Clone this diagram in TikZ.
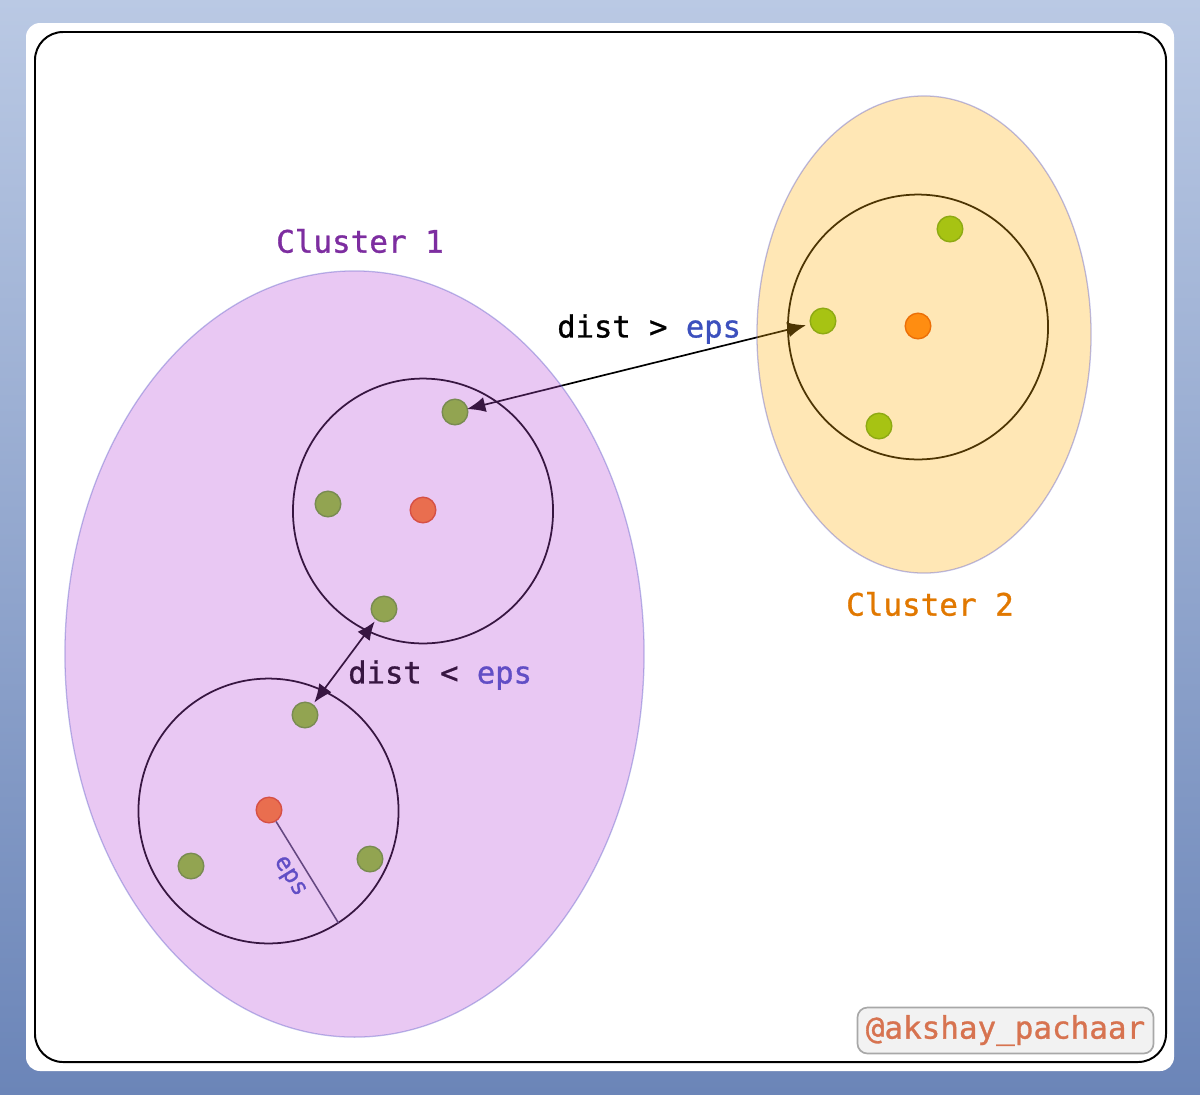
\documentclass[tikz,border=0pt]{standalone}
\usepackage{fontspec}
\setmonofont[FakeBold=1]{DejaVu Sans Mono}
\usetikzlibrary{arrows.meta,shapes.geometric}
\definecolor{bgtop}{RGB}{186,201,228}
\definecolor{bgbot}{RGB}{107,133,184}
\definecolor{pinkc}{RGB}{184,74,216}
\definecolor{yellowc}{RGB}{255,176,12}
\definecolor{edgec}{RGB}{90,90,200}
\definecolor{greenc}{RGB}{130,204,23}
\definecolor{greend}{RGB}{94,168,23}
\definecolor{redc}{RGB}{255,127,20}
\definecolor{redd}{RGB}{228,84,6}
\definecolor{epsc}{RGB}{60,80,190}
\definecolor{radc}{RGB}{64,70,91}
\definecolor{cl1}{RGB}{125,45,160}
\definecolor{cl2}{RGB}{225,120,0}
\definecolor{tagc}{RGB}{215,115,80}
\definecolor{tagbg}{RGB}{242,242,242}
\definecolor{tagd}{RGB}{168,168,168}
\begin{document}
\begin{tikzpicture}[x=0.025cm,y=-0.025cm,font=\ttfamily\fontsize{22}{24}\selectfont,>={Latex[length=0.46cm,width=0.38cm]},
	ring/.style={ellipse,draw=black,line width=1.25pt,inner sep=0pt,minimum width=6.5cm,minimum height=6.62cm},
	pt/.style={circle,draw=greend,fill=greenc,line width=1pt,inner sep=0pt,minimum size=0.64cm},
	mid/.style={pt,draw=redd,fill=redc},
	gap/.style={anchor=west,inner sep=0pt,font=\ttfamily\fontsize{21.7}{24}\selectfont},
	blob/.style={ellipse,draw=edgec,draw opacity=0.4,line width=0.9pt,fill opacity=0.3,inner sep=0pt}]
		\fill[top color=bgtop,bottom color=bgbot] (0,0) rectangle (1200,1094);
		\fill[white,rounded corners=0.35cm] (26,23) rectangle (1174,1071);
		\draw[line width=1.4pt,rounded corners=0.7cm] (35,32) rectangle (1166,1062);
		\node[ring] (r1) at (423,511) {};
		\node[ring] (r2) at (268.5,811) {};
		\node[ring] (r3) at (918,327) {};
		\node[pt] (a1) at (455,412) {};
		\node[pt] (a2) at (328,504) {};
		\node[pt] (a3) at (384,609) {};
		\node[mid] (m1) at (423,510) {};
		\node[pt] (b1) at (305,715) {};
		\node[pt] (b2) at (191,866) {};
		\node[pt] (b3) at (370,859) {};
		\node[mid] (m2) at (269,810) {};
		\node[pt] (c1) at (950,229) {};
		\node[pt] (c2) at (823,321) {};
		\node[pt] (c3) at (879,426) {};
		\node[mid] (m3) at (918,326) {};
		\draw[<->,line width=1.2pt,shorten <=-0.03cm,shorten >=0.1cm] (a1) -- (c2);
		\draw[<->,line width=1.2pt,shorten <=0.05cm,shorten >=0.05cm] (a3) -- (b1);
		\draw[radc,line width=1.1pt] (m2) -- (r2.-58.5);
		\node[cl1] (t1) at (360,241) {Cluster 1};
		\node[cl2] (t2) at (930,604) {Cluster 2};
		\node[gap] (d1) at (557,329) {dist > \textcolor{epsc}{eps}};
		\node[gap] (d2) at (348,675) {dist < \textcolor{epsc}{eps}};
		\node[epsc,rotate=-58.5,font=\ttfamily\fontsize{17}{18}\selectfont,inner sep=0pt] (e1) at (289,877) {eps};
		\node[blob,fill=pinkc,minimum width=14.475cm,minimum height=19.15cm] (k1) at (354.5,654) {};
		\node[blob,fill=yellowc,minimum width=8.35cm,minimum height=11.925cm] (k2) at (924,334.5) {};
		\node[draw=tagd,fill=tagbg,text=tagc,line width=1.2pt,rounded corners=0.25cm,minimum width=7.4cm,minimum height=1.15cm,inner sep=0pt] (w1) at (1005.5,1030.5) {@akshay\_pachaar};
	\end{tikzpicture}
\end{document}
